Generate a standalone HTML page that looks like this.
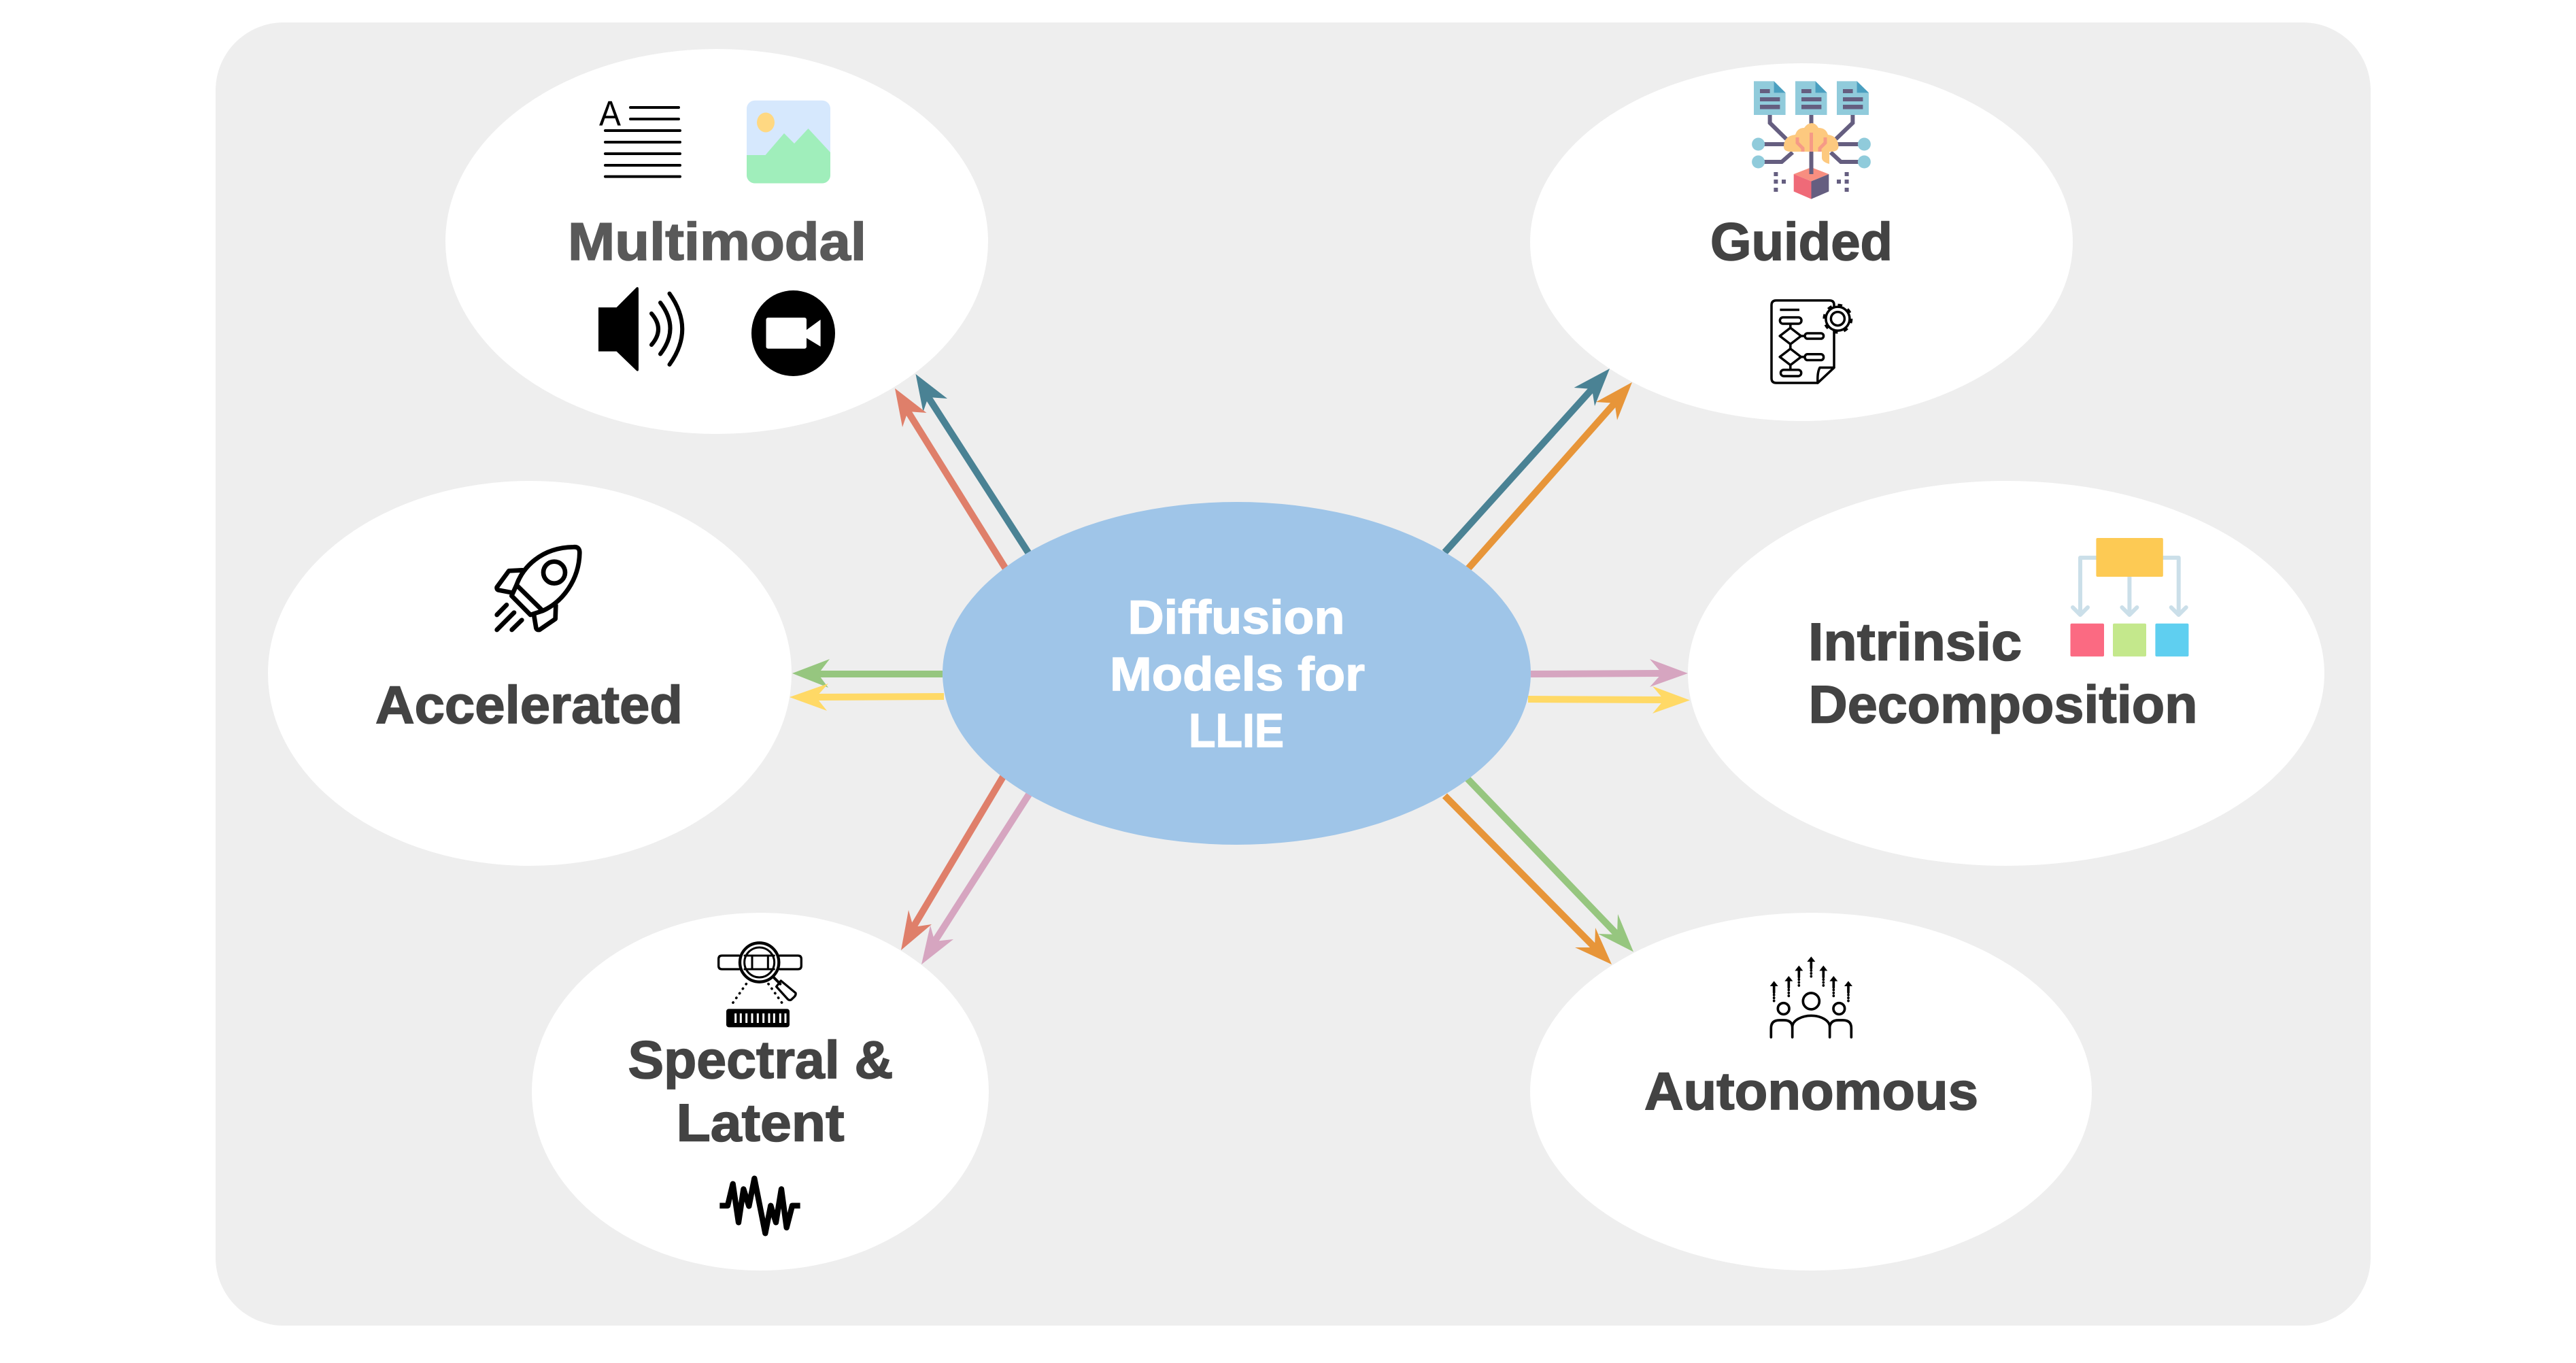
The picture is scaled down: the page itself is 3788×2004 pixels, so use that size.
<!DOCTYPE html>
<html><head><meta charset="utf-8"><style>
html,body{margin:0;padding:0;background:#fff}
svg{display:block}
text{font-family:"Liberation Sans",sans-serif;font-weight:700;fill:#434343}
.b text{stroke-width:1.6;stroke:#434343}
</style></head><body>
<svg width="3788" height="2004" viewBox="0 0 3788 2004" xmlns="http://www.w3.org/2000/svg">
<rect x="317" y="33" width="3169" height="1916" rx="100" fill="#eeeeee"/>
<g fill="#fff">
<ellipse cx="1054" cy="355" rx="399" ry="283"/>
<ellipse cx="2649" cy="356" rx="399" ry="263"/>
<ellipse cx="779" cy="990" rx="385" ry="283"/>
<ellipse cx="2950" cy="990" rx="468" ry="283"/>
<ellipse cx="1118" cy="1605" rx="336" ry="263"/>
<ellipse cx="2663" cy="1605" rx="413" ry="263"/>
</g>
<!-- arrows -->
<g stroke-width="10" fill="none">
<line x1="1513" y1="814" x2="1365" y2="584" stroke="#4a8294"/>
<line x1="1480" y1="838" x2="1335" y2="605" stroke="#df7f6a"/>
<line x1="2124.5" y1="812" x2="2341" y2="572" stroke="#4a8294"/>
<line x1="2158" y1="837" x2="2374.4" y2="592.7" stroke="#e79539"/>
<line x1="1386" y1="991" x2="1203" y2="991" stroke="#96c67f"/>
<line x1="1388" y1="1024" x2="1200" y2="1025" stroke="#ffd966"/>
<line x1="2251" y1="991" x2="2444" y2="990" stroke="#d6a5c0"/>
<line x1="2247" y1="1028" x2="2447" y2="1029" stroke="#ffd966"/>
<line x1="1475" y1="1142" x2="1343" y2="1363" stroke="#df7f6a"/>
<line x1="1513" y1="1168" x2="1374.5" y2="1384" stroke="#d6a5c0"/>
<line x1="2158" y1="1145" x2="2378" y2="1374" stroke="#96c67f"/>
<line x1="2124.5" y1="1170" x2="2345" y2="1393" stroke="#e79539"/>
</g>
<polygon points="1346.5,550 1393,586 1365,584 1357.5,605.5" fill="#4a8294"/>
<polygon points="1316,571 1362.5,607 1335,605 1327,628" fill="#df7f6a"/>
<polygon points="2367,542 2314.6,570 2341,572 2345,597" fill="#4a8294"/>
<polygon points="2400,562 2347,591 2374.4,592.7 2378,617.6" fill="#e79539"/>
<polygon points="1165,990 1220,969 1203,991 1218,1011" fill="#96c67f"/>
<polygon points="1161,1025 1218,1005 1200,1025 1216,1045" fill="#ffd966"/>
<polygon points="2482,990 2426,969 2444,990 2426,1010" fill="#d6a5c0"/>
<polygon points="2485,1029.5 2430,1009 2447,1029 2430,1049" fill="#ffd966"/>
<polygon points="1325,1397 1336,1338 1343,1363 1370,1359" fill="#df7f6a"/>
<polygon points="1355,1418 1368,1360.5 1374.5,1384 1402,1381" fill="#d6a5c0"/>
<polygon points="2402,1399.5 2379,1344 2378,1374 2350,1373" fill="#96c67f"/>
<polygon points="2370,1418 2346,1364 2345,1393 2316,1393" fill="#e79539"/>
<ellipse cx="1818.5" cy="990" rx="432.5" ry="252" fill="#9fc5e8"/>
<!-- labels -->
<g font-size="78" class="b">
<text x="835" y="382" textLength="439" lengthAdjust="spacingAndGlyphs" style="fill:#595959;stroke:#595959">Multimodal</text>
<text x="2515" y="382" textLength="268" lengthAdjust="spacingAndGlyphs">Guided</text>
<text x="552" y="1063" textLength="452" lengthAdjust="spacingAndGlyphs">Accelerated</text>
<text x="2659" y="970.7" textLength="314" lengthAdjust="spacingAndGlyphs">Intrinsic</text>
<text x="2659.5" y="1062.7" textLength="572" lengthAdjust="spacingAndGlyphs">Decomposition</text>
<text x="923.5" y="1585" textLength="390" lengthAdjust="spacingAndGlyphs">Spectral &amp;</text>
<text x="994.5" y="1677.7" textLength="247" lengthAdjust="spacingAndGlyphs">Latent</text>
<text x="2418" y="1631" textLength="491" lengthAdjust="spacingAndGlyphs">Autonomous</text>
</g>
<g font-size="70">
<text x="1658.5" y="931.5" textLength="319" lengthAdjust="spacingAndGlyphs" style="fill:#fff;stroke:#fff;stroke-width:1.4">Diffusion</text>
<text x="1632" y="1015" textLength="375" lengthAdjust="spacingAndGlyphs" style="fill:#fff;stroke:#fff;stroke-width:1.4">Models for</text>
<text x="1748" y="1098" textLength="140" lengthAdjust="spacingAndGlyphs" style="fill:#fff;stroke:#fff;stroke-width:1.4">LLIE</text>
</g>
<!-- Multimodal icons -->
<text x="881" y="184.4" font-size="52" textLength="32" lengthAdjust="spacingAndGlyphs" style="fill:#000;font-weight:400">A</text>
<g stroke="#000" stroke-width="4" stroke-linecap="round">
<path d="M927 158H998M927 175H998M890 192H1000M890 209H1000M890 226H1000M890 243H1000M890 259.6H1000"/>
</g>
<rect x="1098" y="147.7" width="123" height="121.8" rx="12" fill="#d6e8fd"/>
<ellipse cx="1126" cy="180" rx="13" ry="14.5" fill="#ffd882"/>
<path d="M1098 228H1125.5L1153 196L1168 211L1188.5 189L1221 224V257.5a12 12 0 0 1-12 12H1110a12 12 0 0 1-12-12Z" fill="#a0eebb"/>
<path d="M880 452H906.6L936 422.5Q939 421 939 425V543Q939 547 936 545L906.6 516.6H880Z" fill="#000"/>
<g fill="none" stroke="#000" stroke-width="6" stroke-linecap="round">
<path d="M958 461Q978 484 958 507"/>
<path d="M971 445Q1000 483 971 520.5"/>
<path d="M984.5 431.6Q1022 484 984.5 536"/>
</g>
<ellipse cx="1166.5" cy="490" rx="61.5" ry="63" fill="#000"/>
<rect x="1126.5" y="467" width="59.5" height="45.6" rx="3" fill="#fff"/>
<polygon points="1186,485 1206.6,470 1206.6,509.5 1186,497" fill="#fff"/>
<!-- Guided top icon -->
<g fill="#90cbdb">
<path d="M2579 119.4H2608.6L2625.6 136.4V169H2579Z"/>
<path d="M2640 119.4H2669.6L2686.5 136.4V169H2640Z"/>
<path d="M2701 119.4H2730.6L2748 136.4V169H2701Z"/>
</g>
<g fill="#4a9fc0">
<path d="M2608.6 119.4L2625.6 136.4H2608.6Z"/>
<path d="M2669.6 119.4L2686.5 136.4H2669.6Z"/>
<path d="M2730.6 119.4L2748 136.4H2730.6Z"/>
</g>
<g fill="#655e80">
<rect x="2588" y="131" width="14.6" height="6"/><rect x="2588" y="143" width="29.4" height="6"/><rect x="2588" y="154" width="29.4" height="6.5"/>
<rect x="2649" y="131" width="14.6" height="6"/><rect x="2649" y="143" width="29.4" height="6"/><rect x="2649" y="154" width="29.4" height="6.5"/>
<rect x="2710" y="131" width="14.6" height="6"/><rect x="2710" y="143" width="29.4" height="6"/><rect x="2710" y="154" width="29.4" height="6.5"/>
</g>
<g fill="none" stroke="#655e80" stroke-width="6">
<path d="M2602.6 169V180.7L2626.7 204.4M2663.5 169V190M2724.4 169V180.7L2699.7 204.4"/>
<path d="M2585 212H2625M2585 238H2620L2636 224M2741 212H2702M2741 238H2707L2692 224"/>
</g>
<g fill="#90cbdb">
<circle cx="2585.6" cy="212" r="9.5"/><circle cx="2585.6" cy="238" r="9.5"/>
<circle cx="2741.4" cy="212" r="9.5"/><circle cx="2741.4" cy="238" r="9.5"/>
</g>
<path d="M2623 216Q2623 200 2640 198Q2643 188 2653 188Q2658 181 2664 181Q2670 181 2674 188Q2685 188 2688 198Q2703 200 2703.5 216Q2703 223 2692 223H2690V241Q2679 238 2679 232V223H2634Q2623 223 2623 216Z" fill="#fdc97f"/>
<g fill="none" stroke="#f69a86" stroke-width="5">
<path d="M2663.5 195V223M2643 202V210L2651 218V223M2684 202V210L2676 218V223"/>
</g>
<line x1="2663.5" y1="223" x2="2663.5" y2="256" stroke="#655e80" stroke-width="6"/>
<polygon points="2663.5,246 2689.3,256 2663.5,266.5 2637.7,256" fill="#f88e80"/>
<polygon points="2637.7,256 2663.5,266.5 2663.5,292.6 2637.7,281.5" fill="#ef6a78"/>
<polygon points="2689.3,256 2663.5,266.5 2663.5,292.6 2689.3,281.5" fill="#655e80"/>
<line x1="2663.5" y1="246" x2="2663.5" y2="256" stroke="#655e80" stroke-width="6"/>
<g fill="#655e80">
<rect x="2608.4" y="253" width="6" height="6"/><rect x="2608.4" y="264" width="6" height="6"/><rect x="2608.4" y="276" width="6" height="6"/><rect x="2620" y="264" width="6" height="6"/>
<rect x="2712.6" y="253" width="6" height="6"/><rect x="2712.6" y="264" width="6" height="6"/><rect x="2712.6" y="276" width="6" height="6"/><rect x="2701" y="264" width="6" height="6"/>
</g>
<!-- Flowchart icon -->
<g fill="#fff" stroke="#000" stroke-width="3.5" stroke-linejoin="round">
<path d="M2612 441.7H2690Q2697 441.7 2697 448V540.5L2673 563H2612Q2605 563 2605 556V448.7Q2605 441.7 2612 441.7Z"/>
<path d="M2676 540.5H2697L2673 563Q2672 548 2676 540.5Z"/>
<path d="M2617.4 455.5H2646" fill="none"/>
<rect x="2617.4" y="466.6" width="31.6" height="9.4" rx="4.5"/>
<path d="M2632.8 476V482M2632.8 506V512.7M2632.8 536.7V543.7M2648 494H2654M2648 524.7H2654" fill="none"/>
<polygon points="2632.8,482 2648.4,494 2632.8,506 2617.2,494"/>
<polygon points="2632.8,512.7 2648.4,524.7 2632.8,536.7 2617.2,524.7"/>
<rect x="2654" y="490" width="27.6" height="8" rx="4"/>
<rect x="2654" y="520.8" width="27.6" height="8.7" rx="4"/>
<rect x="2618.5" y="543.7" width="30.2" height="9.3" rx="4.5"/>
<circle cx="2702.4" cy="468.6" r="17.5"/>
<circle cx="2702.4" cy="468.6" r="10"/>
</g>
<circle cx="2702.4" cy="468.6" r="20" fill="none" stroke="#000" stroke-width="4" stroke-dasharray="6.5 9.2"/>
<!-- Intrinsic icon -->
<g fill="none" stroke="#cbdfe9" stroke-width="6" stroke-linejoin="round" stroke-linecap="round">
<path d="M3085 820H3059V903M3180 820H3203.7V903M3131.4 848V903"/>
<path d="M3048 893L3059 904L3070 893M3120.4 893L3131.4 904L3142.4 893M3192.7 893L3203.7 904L3214.7 893"/>
</g>
<rect x="3082.4" y="791" width="98.4" height="57" rx="2" fill="#fdca54"/>
<rect x="3044.5" y="916.7" width="49.5" height="48.6" rx="2" fill="#fb6a82"/>
<rect x="3107" y="916.7" width="49" height="48.6" rx="2" fill="#c4e88c"/>
<rect x="3169.4" y="916.7" width="49" height="48.6" rx="2" fill="#5fcff0"/>
<!-- Rocket -->
<g transform="translate(680 770) scale(.3333)" fill="none" stroke="#000" stroke-width="20" stroke-linecap="round" stroke-linejoin="round">
<path d="M217 318L238 272C265 195 345 105 490 103Q517 100 517 128C515 250 440 345 355 384L300 402Z"/>
<path d="M240 272L352 382"/>
<path d="M265 205L205 208L152 280Q150 290 160 293L222 305"/>
<path d="M412 360L410 420L340 468Q328 470 325 460L315 400"/>
<circle cx="405" cy="215" r="48"/>
<path d="M152 402L195 358M152 468L228 392M218 468L262 425"/>
</g>
<!-- Spectral icon -->
<g transform="translate(1020 1380) scale(.3333)" fill="none" stroke="#000" stroke-linecap="round" stroke-linejoin="round">
<path d="M200 75H125Q110 75 110 90V120Q110 135 125 135H200M380 75H460Q475 75 475 90V120Q475 135 460 135H380" stroke-width="10"/>
<circle cx="290" cy="105" r="86" stroke-width="13"/>
<circle cx="290" cy="105" r="66" stroke-width="9"/>
<path d="M225 75H355M225 135H355M258 75V135M328 75V135" stroke-width="9"/>
<path d="M350 168L382 200" stroke-width="12"/>
<path d="M385 186L450 240Q452 248 445 256L430 270Q422 274 414 266L365 212Z" stroke-width="10"/>
<path d="M232 200L165 295M330 200L398 295" stroke-width="11" stroke-dasharray="1 24"/>
<rect x="147" y="313" width="273" height="75" rx="8" fill="#000" stroke-width="6"/>
<path d="M185 330V372M208 330V372M233 330V372M258 330V372M283 330V372M308 330V372M333 330V372M355 330V372M382 330V372M405 330V372" stroke="#fff" stroke-width="9" stroke-linecap="butt"/>
</g>
<!-- Wave -->
<g transform="translate(1040 1720) scale(.3333)">
<polyline points="55,158 90,158 113,62 138,232 160,85 184,160 208,38 256,280 280,158 303,232 327,85 350,255 375,158 410,158" fill="none" stroke="#000" stroke-width="25" stroke-linejoin="round"/>
</g>
<!-- Autonomous icon -->
<g transform="translate(2580 1390) scale(.3333)" fill="none" stroke="#000" stroke-linecap="round">
<g stroke-width="11">
<circle cx="250" cy="246" r="36"/>
<circle cx="128" cy="279" r="25"/>
<circle cx="373" cy="279" r="25"/>
<path d="M167 405V360C167 330 210 310 250 310S332 330 332 360V405"/>
<path d="M73 405V365Q73 330 110 330H130Q165 330 167 360"/>
<path d="M427 405V365Q427 330 390 330H370Q335 330 332 360"/>
</g>
<g stroke-width="11">
<path d="M86 175V208M151 153V186M196 107V140M250 67V100M304 107V140M349 153V186M414 175V208"/>
<path d="M86 218V250M151 196V228M196 150V182M250 110V142M304 150V182M349 196V228M414 218V250" stroke-dasharray="1 12"/>
</g>
<g fill="#000" stroke="none">
<polygon points="86,157 104,180 68,180"/><polygon points="151,135 169,158 133,158"/>
<polygon points="196,89 214,112 178,112"/><polygon points="250,49 268,72 232,72"/>
<polygon points="304,89 322,112 286,112"/><polygon points="349,135 367,158 331,158"/>
<polygon points="414,157 432,180 396,180"/>
</g>
</g>
</svg>
</body></html>
